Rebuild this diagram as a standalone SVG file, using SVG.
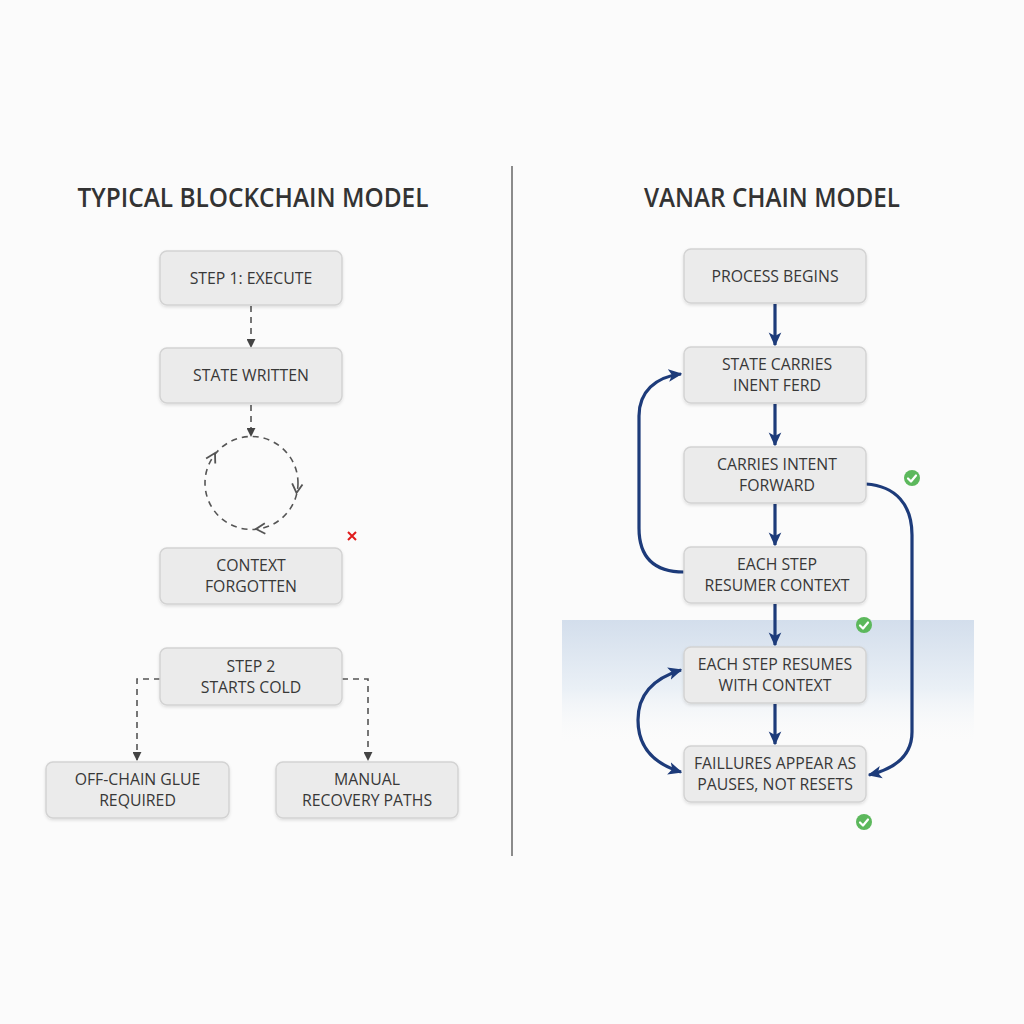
<svg xmlns="http://www.w3.org/2000/svg" width="1024" height="1024" viewBox="0 0 1024 1024">
<defs>
<style>
.title{font-family:"Open Sans","Liberation Sans",sans-serif;font-weight:600;font-size:27px;fill:#333;text-anchor:middle}
.box{fill:#ebebeb;stroke:#d3d3d3;stroke-width:1.5}
.lbl{font-family:"Open Sans","Liberation Sans",sans-serif;font-size:15.8px;fill:#383838;text-anchor:middle}
.dash{fill:none;stroke:#555;stroke-width:1.6;stroke-dasharray:6 5}
.blue{fill:none;stroke:#1d3b7a;stroke-width:3.2}
.chk{fill:#5cb85c}
.tick{fill:none;stroke:#fff;stroke-width:2.2;stroke-linecap:round;stroke-linejoin:round}
</style>
<linearGradient id="band" x1="0" y1="0" x2="0" y2="1">
<stop offset="0" stop-color="#d3deec"/>
<stop offset="0.55" stop-color="#eaf0f6"/>
<stop offset="1" stop-color="#fbfbfb" stop-opacity="0"/>
</linearGradient>
<filter id="sh" x="-10%" y="-20%" width="120%" height="150%">
<feDropShadow dx="0" dy="1.5" stdDeviation="1.5" flood-color="#000" flood-opacity="0.12"/>
</filter>
<marker id="ag" viewBox="0 0 10 10" refX="9" refY="5" markerWidth="9" markerHeight="9" markerUnits="userSpaceOnUse" orient="auto">
<path d="M0,0 L10,5 L0,10 z" fill="#444"/>
</marker>
<marker id="ao" viewBox="0 0 10 10" refX="8" refY="5" markerWidth="13" markerHeight="13" markerUnits="userSpaceOnUse" orient="auto">
<path d="M1,1 L8,5 L1,9" fill="none" stroke="#555" stroke-width="1.4"/>
</marker>
<marker id="ab" viewBox="0 0 10 10" refX="9" refY="5" markerWidth="14" markerHeight="14" markerUnits="userSpaceOnUse" orient="auto-start-reverse">
<path d="M0,0.5 L10,5 L0,9.5 L2.5,5 z" fill="#1d3b7a"/>
</marker>
</defs>
<rect width="1024" height="1024" fill="#fbfbfb"/>
<rect x="562" y="620" width="412" height="125" fill="url(#band)"/>
<line x1="512" y1="166" x2="512" y2="856" stroke="#666" stroke-width="1.5"/>
<text class="title" x="253" y="207" textLength="351" lengthAdjust="spacingAndGlyphs">TYPICAL BLOCKCHAIN MODEL</text>
<text class="title" x="772" y="207" textLength="256" lengthAdjust="spacingAndGlyphs">VANAR CHAIN MODEL</text>

<g id="connectors">
<path class="dash" d="M251,306 V347" marker-end="url(#ag)"/>
<path class="dash" d="M251,405 V436" marker-end="url(#ag)"/>
<circle class="dash" cx="251.5" cy="483" r="46.5"/>
<path d="M208,466 L215,453" fill="none" stroke="none" marker-end="url(#ao)"/>
<path d="M297.5,482 L296.5,493" fill="none" stroke="none" marker-end="url(#ao)"/>
<path d="M266,528.5 L256,529" fill="none" stroke="none" marker-end="url(#ao)"/>
<path class="dash" d="M160,679 H137 V760" marker-end="url(#ag)"/>
<path class="dash" d="M342,679 H368 V760" marker-end="url(#ag)"/>

<path class="blue" d="M775,304 V345" marker-end="url(#ab)"/>
<path class="blue" d="M775,404 V445" marker-end="url(#ab)"/>
<path class="blue" d="M775,504 V545" marker-end="url(#ab)"/>
<path class="blue" d="M775,604 V645" marker-end="url(#ab)"/>
<path class="blue" d="M775,704 V744" marker-end="url(#ab)"/>
<path class="blue" d="M684,572 C655,572 639,558 639,528 L639,416 C639,392 655,377 681,374" marker-end="url(#ab)"/>
<path class="blue" d="M866,484 C896,486 912,505 912,535 L912,732 C912,754 898,768 869,775" marker-end="url(#ab)"/>
<path class="blue" d="M681,670 C648,680 638,700 638,720 C638,742 648,762 681,772" marker-start="url(#ab)" marker-end="url(#ab)"/>
</g>

<g id="n1"><rect class="box" filter="url(#sh)" x="160" y="251" width="182" height="54" rx="7"/><text class="lbl" x="251" y="283.5">STEP 1: EXECUTE</text></g>
<g id="n2"><rect class="box" filter="url(#sh)" x="160" y="348" width="182" height="55" rx="7"/><text class="lbl" x="251" y="381">STATE WRITTEN</text></g>
<g id="n3"><rect class="box" filter="url(#sh)" x="160" y="548" width="182" height="56" rx="7"/><text class="lbl" x="251" y="571">CONTEXT</text><text class="lbl" x="251" y="592">FORGOTTEN</text></g>
<g id="n4"><rect class="box" filter="url(#sh)" x="160" y="648" width="182" height="57" rx="7"/><text class="lbl" x="251" y="672">STEP 2</text><text class="lbl" x="251" y="693">STARTS COLD</text></g>
<g id="n5"><rect class="box" filter="url(#sh)" x="46" y="762" width="183" height="56" rx="7"/><text class="lbl" x="137.5" y="785">OFF-CHAIN GLUE</text><text class="lbl" x="137.5" y="806">REQUIRED</text></g>
<g id="n6"><rect class="box" filter="url(#sh)" x="276" y="762" width="182" height="56" rx="7"/><text class="lbl" x="367" y="785">MANUAL</text><text class="lbl" x="367" y="806">RECOVERY PATHS</text></g>
<g id="xmark"><path d="M348,532 L356,540 M356,532 L348,540" stroke="#e01b1b" stroke-width="2"/></g>

<g id="r1"><rect class="box" filter="url(#sh)" x="684" y="249" width="182" height="54" rx="7"/><text class="lbl" x="775" y="282">PROCESS BEGINS</text></g>
<g id="r2"><rect class="box" filter="url(#sh)" x="684" y="347" width="182" height="56" rx="7"/><text class="lbl" x="777" y="370">STATE CARRIES</text><text class="lbl" x="777" y="391">INENT FERD</text></g>
<g id="r3"><rect class="box" filter="url(#sh)" x="684" y="447" width="182" height="56" rx="7"/><text class="lbl" x="777" y="470">CARRIES INTENT</text><text class="lbl" x="777" y="491">FORWARD</text></g>
<g id="r4"><rect class="box" filter="url(#sh)" x="684" y="547" width="182" height="56" rx="7"/><text class="lbl" x="777" y="570">EACH STEP</text><text class="lbl" x="777" y="591">RESUMER CONTEXT</text></g>
<g id="r5"><rect class="box" filter="url(#sh)" x="684" y="647" width="182" height="56" rx="7"/><text class="lbl" x="775" y="670">EACH STEP RESUMES</text><text class="lbl" x="775" y="691">WITH CONTEXT</text></g>
<g id="r6"><rect class="box" filter="url(#sh)" x="684" y="746" width="182" height="56" rx="7"/><text class="lbl" x="775" y="769">FAILLURES APPEAR AS</text><text class="lbl" x="775" y="790">PAUSES, NOT RESETS</text></g>

<g id="check1"><circle class="chk" cx="912" cy="478" r="8"/><path class="tick" d="M908,478.5 L911,481.5 L916,475.5"/></g>
<g id="check2"><circle class="chk" cx="864" cy="625" r="8"/><path class="tick" d="M860,625.5 L863,628.5 L868,622.5"/></g>
<g id="check3"><circle class="chk" cx="864" cy="822" r="8"/><path class="tick" d="M860,822.5 L863,825.5 L868,819.5"/></g>
</svg>
